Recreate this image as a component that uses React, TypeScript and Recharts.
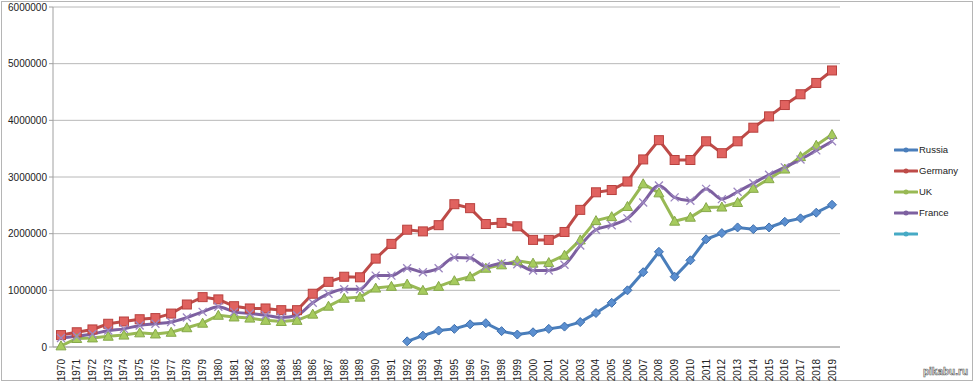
import React from 'react';
import {
  LineChart,
  Line,
  XAxis,
  YAxis,
  CartesianGrid,
} from 'recharts';

document.body.style.margin = '0';

const years = [
  1970, 1971, 1972, 1973, 1974, 1975, 1976, 1977, 1978, 1979,
  1980, 1981, 1982, 1983, 1984, 1985, 1986, 1987, 1988, 1989,
  1990, 1991, 1992, 1993, 1994, 1995, 1996, 1997, 1998, 1999,
  2000, 2001, 2002, 2003, 2004, 2005, 2006, 2007, 2008, 2009,
  2010, 2011, 2012, 2013, 2014, 2015, 2016, 2017, 2018, 2019,
];

// values in millions
const russia = [
  null, null, null, null, null, null, null, null, null, null,
  null, null, null, null, null, null, null, null, null, null,
  null, null, 0.1, 0.2, 0.29, 0.32, 0.4, 0.42, 0.28, 0.22,
  0.26, 0.32, 0.36, 0.44, 0.6, 0.78, 1.0, 1.32, 1.68, 1.24,
  1.53, 1.9, 2.01, 2.11, 2.08, 2.11, 2.21, 2.27, 2.37, 2.51,
];

const germany = [
  0.21, 0.26, 0.31, 0.41, 0.45, 0.49, 0.51, 0.59, 0.75, 0.88,
  0.84, 0.72, 0.68, 0.68, 0.65, 0.65, 0.94, 1.15, 1.24, 1.23,
  1.56, 1.82, 2.07, 2.04, 2.15, 2.52, 2.45, 2.17, 2.19, 2.13,
  1.89, 1.89, 2.03, 2.42, 2.73, 2.77, 2.92, 3.31, 3.65, 3.3,
  3.3, 3.63, 3.42, 3.63, 3.87, 4.07, 4.27, 4.46, 4.66, 4.88,
];

const uk = [
  0.02, 0.15, 0.16, 0.19, 0.21, 0.25, 0.23, 0.26, 0.34, 0.42,
  0.56, 0.53, 0.51, 0.47, 0.45, 0.47, 0.58, 0.72, 0.86, 0.88,
  1.04, 1.07, 1.11, 1.0, 1.07, 1.17, 1.24, 1.39, 1.45, 1.52,
  1.48, 1.49, 1.62, 1.89, 2.23, 2.3, 2.48, 2.88, 2.72, 2.22,
  2.29, 2.46, 2.47, 2.55, 2.8, 2.97, 3.14, 3.36, 3.56, 3.75,
];

const france = [
  0.16, 0.19, 0.23, 0.29, 0.32, 0.38, 0.41, 0.44, 0.52, 0.62,
  0.71, 0.62, 0.59, 0.56, 0.52, 0.56, 0.78, 0.94, 1.02, 1.02,
  1.26, 1.26, 1.39, 1.32, 1.39, 1.58, 1.57, 1.42, 1.48, 1.46,
  1.35, 1.35, 1.45, 1.79, 2.07, 2.15, 2.27, 2.55, 2.85, 2.64,
  2.58, 2.79, 2.61, 2.74, 2.89, 3.04, 3.17, 3.31, 3.47, 3.63,
];

const yTicks = [0, 1000000, 2000000, 3000000, 4000000, 5000000, 6000000];

const toVal = (v: number | null) => (v === null ? null : Math.round(v * 1000000));

const data = years.map((y, i) => ({
  year: String(y),
  Russia: toVal(russia[i]),
  Germany: toVal(germany[i]),
  UK: toVal(uk[i]),
  France: toVal(france[i]),
}));

const BLUE = '#4A7EBB';
const RED = '#BE4B48';
const GREEN = '#98B954';
const PURPLE = '#7D60A0';
const CYAN = '#46AAC5';

const FONT = '"Liberation Sans", Arial, sans-serif';

const Diamond = (props: any) => {
  const { cx, cy, value } = props;
  if (value == null || cx == null) return null;
  const r = 4.5;
  return (
    <path
      d={`M${cx},${cy - r}L${cx + r},${cy}L${cx},${cy + r}L${cx - r},${cy}Z`}
      fill="#5B8FD0"
      stroke="#3E6FAD"
      strokeWidth={1}
    />
  );
};

const Square = (props: any) => {
  const { cx, cy, value } = props;
  if (value == null || cx == null) return null;
  const r = 4.5;
  return (
    <rect x={cx - r} y={cy - r} width={r * 2} height={r * 2} fill="#E0625F" stroke="#B8413E" strokeWidth={1} />
  );
};

const Triangle = (props: any) => {
  const { cx, cy, value } = props;
  if (value == null || cx == null) return null;
  const r = 5;
  return (
    <path
      d={`M${cx},${cy - r}L${cx + r},${cy + r * 0.8}L${cx - r},${cy + r * 0.8}Z`}
      fill="#A6CB5E"
      stroke="#86A84A"
      strokeWidth={1}
    />
  );
};

const Cross = (props: any) => {
  const { cx, cy, value } = props;
  if (value == null || cx == null) return null;
  const r = 4;
  return (
    <path
      d={`M${cx - r},${cy - r}L${cx + r},${cy + r}M${cx + r},${cy - r}L${cx - r},${cy + r}`}
      stroke="#9C86C0"
      strokeWidth={1.3}
      fill="none"
    />
  );
};

const YearTick = (props: any) => {
  const { x, y, payload } = props;
  return (
    <text
      x={x + 3.5}
      y={y + 4}
      transform={`rotate(-90, ${x + 3.5}, ${y + 4})`}
      textAnchor="end"
      fontSize={10}
      fontFamily={FONT}
      fill="#222"
    >
      {payload.value}
    </text>
  );
};

const legendItems = [
  { name: 'Russia', color: BLUE },
  { name: 'Germany', color: RED },
  { name: 'UK', color: GREEN },
  { name: 'France', color: PURPLE },
  { name: '', color: CYAN },
];

export default function App() {
  return (
    <div style={{ position: 'relative', width: 974, height: 383, background: '#fff' }}>
      <div
        style={{
          position: 'absolute',
          left: 1,
          top: 1,
          width: 970,
          height: 378,
          border: '1px solid #b5b5b5',
          pointerEvents: 'none',
        }}
      />
      <LineChart
        width={974}
        height={383}
        data={data}
        margin={{ top: 7, right: 134, left: 0, bottom: 0 }}
      >
        <CartesianGrid vertical={false} stroke="#b8b8b8" strokeWidth={1} />
        <XAxis
          dataKey="year"
          interval={0}
          height={36}
          padding={{ left: 8, right: 8 }}
          tick={<YearTick />}
          tickLine={false}
          axisLine={{ stroke: '#a0a0a0' }}
        />
        <YAxis
          domain={[0, 6000000]}
          ticks={yTicks}
          width={53}
          tickSize={4}
          tickLine={{ stroke: '#a0a0a0' }}
          axisLine={{ stroke: '#a0a0a0' }}
          tick={{ fontSize: 10, fontFamily: FONT, fill: '#222' }}
        />
        <Line
          dataKey="Russia"
          stroke={BLUE}
          strokeWidth={3}
          dot={<Diamond />}
          activeDot={false}
          isAnimationActive={false}
        />
        <Line
          dataKey="Germany"
          stroke={RED}
          strokeWidth={3}
          dot={<Square />}
          activeDot={false}
          isAnimationActive={false}
        />
        <Line
          dataKey="UK"
          stroke={GREEN}
          strokeWidth={3}
          dot={<Triangle />}
          activeDot={false}
          isAnimationActive={false}
        />
        <Line
          type="monotone"
          dataKey="France"
          stroke={PURPLE}
          strokeWidth={3}
          dot={<Cross />}
          activeDot={false}
          isAnimationActive={false}
        />
      </LineChart>
      <div
        style={{
          position: 'absolute',
          left: 894,
          top: 139,
          fontFamily: FONT,
          fontSize: 9.5,
          color: '#222',
        }}
      >
        {legendItems.map((it, i) => (
          <div key={i} style={{ display: 'flex', alignItems: 'center', height: 21 }}>
            <svg width={24} height={8} style={{ marginRight: 1 }}>
              <line x1={1} y1={4} x2={23} y2={4} stroke={it.color} strokeWidth={3} strokeLinecap="round" />
              <circle cx={12} cy={4} r={2.5} fill={it.color} />
            </svg>
            <span>{it.name}</span>
          </div>
        ))}
      </div>
      <div
        style={{
          position: 'absolute',
          right: 6,
          bottom: 6,
          fontFamily: FONT,
          fontSize: 10,
          color: '#fff',
          WebkitTextStroke: '0.6px #666',
          fontWeight: 'bold',
        }}
      >
        pikabu.ru
      </div>
    </div>
  );
}
